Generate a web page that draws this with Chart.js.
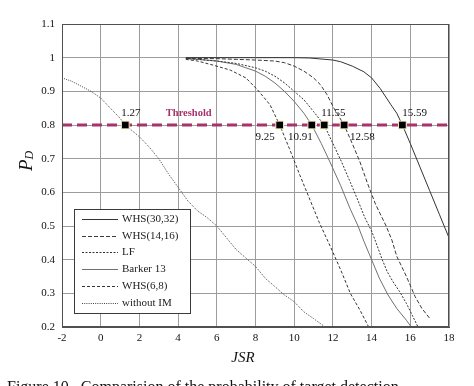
<!DOCTYPE html>
<html>
<head>
<meta charset="utf-8">
<title>PD vs JSR</title>
<script src="https://cdn.jsdelivr.net/npm/chart.js@4/dist/chart.umd.min.js"></script>
<style>
  html, body { margin: 0; padding: 0; background: #fff; }
  #wrap { width: 474px; height: 386px; }
</style>
</head>
<body>
<div id="wrap"><canvas id="pdChart" width="474" height="386"></canvas></div>
<script>
/* ---------- data ---------- */
const seriesNames = ["WHS(30,32)", "WHS(14,16)", "LF", "Barker 13", "WHS(6,8)", "without IM"];

const whs3032X = [4.4, 6, 8, 10, 10.8, 12, 12.4, 13, 13.6, 14, 14.45, 15, 15.3, 15.59, 16, 16.5, 17, 17.5, 18];
const whs3032Y = [1.0, 1.0, 1.0, 1.0, 0.999, 0.993, 0.988, 0.975, 0.958, 0.94, 0.908, 0.86, 0.835, 0.8, 0.745, 0.675, 0.605, 0.535, 0.465];

const whs1416X = [4.4, 6, 7, 8, 9, 9.5, 10, 10.5, 11, 11.35, 11.7, 12.05, 12.58, 13, 13.4, 13.8, 14.2, 14.75, 15.05, 15.3, 15.8, 16.25, 16.6, 17.0];
const whs1416Y = [0.998, 0.997, 0.995, 0.993, 0.99, 0.985, 0.975, 0.96, 0.94, 0.92, 0.89, 0.85, 0.8, 0.745, 0.69, 0.625, 0.565, 0.5, 0.458, 0.41, 0.35, 0.29, 0.255, 0.226];

const lfX = [4.4, 5, 6, 7, 8, 8.5, 9, 9.5, 10, 10.5, 11, 11.55, 12, 12.45, 12.9, 13.3, 13.65, 14, 14.2, 14.55, 14.8, 15.1, 15.45, 15.8, 16.1, 16.4];
const lfY = [0.997, 0.995, 0.99, 0.983, 0.97, 0.96, 0.945, 0.925, 0.9, 0.875, 0.84, 0.8, 0.745, 0.69, 0.63, 0.575, 0.525, 0.485, 0.455, 0.4, 0.365, 0.335, 0.305, 0.27, 0.235, 0.2];

const barkerX = [4.4, 5, 6, 7, 7.5, 8, 8.5, 9, 9.5, 10, 10.5, 10.91, 11.4, 11.85, 12.4, 12.9, 13.3, 13.6, 14, 14.4, 14.85, 15.3, 15.8, 16.05];
const barkerY = [0.998, 0.995, 0.99, 0.98, 0.97, 0.96, 0.945, 0.925, 0.9, 0.87, 0.835, 0.8, 0.745, 0.69, 0.62, 0.55, 0.5, 0.455, 0.4, 0.345, 0.295, 0.255, 0.22, 0.2];

const whs68X = [4.4, 5, 5.8, 6.7, 7.5, 8.1, 8.75, 9.25, 9.75, 10.3, 10.8, 11.3, 11.9, 12.4, 12.9, 13.4, 13.85];
const whs68Y = [0.995, 0.99, 0.978, 0.963, 0.94, 0.905, 0.86, 0.8, 0.73, 0.65, 0.58, 0.51, 0.435, 0.37, 0.3, 0.25, 0.2];

const noImX = [-2, -1.5, -1, -0.5, 0, 0.5, 1, 1.27, 2, 2.5, 3, 3.5, 4, 4.5, 5, 5.5, 6, 6.5, 7, 7.5, 8, 8.5, 9, 9.5, 10, 10.5, 11, 11.6];
const noImY = [0.94, 0.93, 0.915, 0.9, 0.88, 0.85, 0.82, 0.8, 0.765, 0.735, 0.7, 0.655, 0.615, 0.575, 0.545, 0.525, 0.5, 0.465, 0.43, 0.405, 0.38, 0.345, 0.32, 0.295, 0.275, 0.245, 0.225, 0.2];

const thresholdY = 0.8;
const crossX = [1.27, 9.25, 10.91, 11.55, 12.58, 15.59];
const crossLabels = ["1.27", "9.25", "10.91", "11.55", "12.58", "15.59"];

const xTicks = [-2, 0, 2, 4, 6, 8, 10, 12, 14, 16, 18];
const yTicks = [0.2, 0.3, 0.4, 0.5, 0.6, 0.7, 0.8, 0.9, 1, 1.1];

/* ---------- styles ---------- */
const serif = "'Liberation Serif', 'DejaVu Serif', serif";
const threshColor = "#a8336b";
const lineStyles = [
  { color: "#333", dash: [] },
  { color: "#3a3a3a", dash: [4, 2] },
  { color: "#333", dash: [2, 1.5] },
  { color: "#707070", dash: [] },
  { color: "#333", dash: [3, 2] },
  { color: "#444", dash: [1, 1.2] }
];
// label placement next to each crossing marker: [align, dx, dy]
const crossPlace = [
  ["left", -4, -12], ["right", -5, 12], ["right", 1, 12],
  ["left", -3, -12], ["left", 6, 12], ["left", 0, -12]
];

const toPts = (xs, ys) => xs.map((x, i) => ({ x: x, y: ys[i] }));
const seriesPts = [
  toPts(whs3032X, whs3032Y),
  toPts(whs1416X, whs1416Y),
  toPts(lfX, lfY),
  toPts(barkerX, barkerY),
  toPts(whs68X, whs68Y),
  toPts(noImX, noImY)
];

const curveSets = seriesNames.map((name, i) => ({
  label: name,
  data: seriesPts[i],
  borderColor: lineStyles[i].color,
  borderDash: lineStyles[i].dash,
  borderWidth: 1,
  pointRadius: 0,
  tension: 0,
  fill: false,
  order: 3,
  isCurve: true
}));

const datasets = [
  {
    label: "crossings",
    data: crossX.map(x => ({ x: x, y: thresholdY })),
    showLine: false,
    pointStyle: "rect",
    pointRadius: 5.5,
    backgroundColor: "#000",
    borderColor: "#f3efc0",
    borderWidth: 1,
    order: 0
  },
  {
    label: "Threshold",
    data: [{ x: xTicks[0], y: thresholdY }, { x: xTicks[xTicks.length - 1], y: thresholdY }],
    borderColor: threshColor,
    borderWidth: 3,
    borderDash: [10, 5],
    pointRadius: 0,
    order: 1
  }
].concat(curveSets);

/* ---------- extra drawing: labels, legend, axis titles ---------- */
const annotate = {
  id: "annotate",
  afterDatasetsDraw(chart) {
    const ctx = chart.ctx;
    const xs = chart.scales.x, ys = chart.scales.y;
    const ca = chart.chartArea;
    const ty = ys.getPixelForValue(thresholdY);

    ctx.save();
    // frame
    ctx.strokeStyle = "#505050";
    ctx.lineWidth = 1;
    ctx.strokeRect(ca.left + 0.5, ca.top + 0.5, ca.right - ca.left - 1, ca.bottom - ca.top - 1);

    // threshold label
    ctx.fillStyle = threshColor;
    ctx.font = "bold 10.5px " + serif;
    ctx.textAlign = "center";
    ctx.textBaseline = "middle";
    ctx.fillText("Threshold", xs.getPixelForValue(4.55), ty - 12);

    // crossing values
    ctx.fillStyle = "#111";
    ctx.font = "11px " + serif;
    crossX.forEach((x, i) => {
      const p = crossPlace[i];
      ctx.textAlign = p[0];
      ctx.fillText(crossLabels[i], xs.getPixelForValue(x) + p[1], ty + p[2]);
    });

    // legend box
    const lx = ca.left + 12, lw = 116, lh = 104;
    const lt = ca.bottom - 14 - lh;
    ctx.fillStyle = "#fff";
    ctx.fillRect(lx, lt, lw, lh);
    ctx.strokeStyle = "#3a3a3a";
    ctx.strokeRect(lx + 0.5, lt + 0.5, lw, lh);
    ctx.font = "11px " + serif;
    ctx.textAlign = "left";
    chart.data.datasets.filter(d => d.isCurve).forEach((d, i) => {
      const ry = Math.round(lt + 10 + i * 16.7) + 0.5;
      ctx.beginPath();
      ctx.setLineDash(d.borderDash);
      ctx.strokeStyle = d.borderColor;
      ctx.lineWidth = 1;
      ctx.moveTo(lx + 8, ry);
      ctx.lineTo(lx + 44, ry);
      ctx.stroke();
      ctx.setLineDash([]);
      ctx.fillStyle = "#222";
      ctx.fillText(d.label, lx + 48, ry);
    });
    ctx.restore();
  },
  afterDraw(chart) {
    const ctx = chart.ctx;
    ctx.save();
    ctx.fillStyle = "#111";
    // x axis title
    ctx.font = "italic 15px " + serif;
    ctx.textAlign = "center";
    ctx.textBaseline = "middle";
    ctx.fillText("JSR", 243, 358);
    // y axis title P_D (rotated)
    ctx.translate(32, 171);
    ctx.rotate(-Math.PI / 2);
    ctx.textAlign = "left";
    ctx.textBaseline = "alphabetic";
    ctx.font = "italic 19px " + serif;
    ctx.fillText("P", 0, 0);
    const pw = ctx.measureText("P").width;
    ctx.font = "italic 12px " + serif;
    ctx.fillText("D", pw, 1);
    ctx.restore();

    // figure caption (cut off at the bottom edge)
    ctx.save();
    ctx.fillStyle = "#111";
    ctx.font = "16px " + serif;
    ctx.textAlign = "left";
    ctx.textBaseline = "alphabetic";
    ctx.fillText("Figure 10.  Comparision of the probability of target detection", 7, 392);
    ctx.restore();
  }
};

new Chart(document.getElementById("pdChart"), {
  type: "line",
  data: { datasets: datasets },
  plugins: [annotate],
  options: {
    responsive: false,
    animation: false,
    devicePixelRatio: 1,
    layout: { padding: { top: 24, right: 25, left: 0, bottom: 0 } },
    plugins: { legend: { display: false }, tooltip: { enabled: false } },
    scales: {
      x: {
        type: "linear",
        min: xTicks[0],
        max: xTicks[xTicks.length - 1],
        afterFit: s => { s.height = 59; },
        afterBuildTicks: s => { s.ticks = xTicks.map(v => ({ value: v })); },
        grid: { color: "#9c9c9c", lineWidth: 1, drawTicks: false },
        border: { color: "#505050" },
        ticks: {
          padding: 5,
          color: "#111",
          font: { family: serif, size: 11 },
          callback: v => String(v)
        }
      },
      y: {
        type: "linear",
        min: yTicks[0],
        max: yTicks[yTicks.length - 1],
        afterFit: s => { s.width = 62; },
        afterBuildTicks: s => { s.ticks = yTicks.map(v => ({ value: v })); },
        grid: { color: "#9c9c9c", lineWidth: 1, drawTicks: false },
        border: { color: "#505050" },
        ticks: {
          padding: 7,
          color: "#111",
          font: { family: serif, size: 11 },
          callback: v => String(Number(v.toFixed(1)))
        }
      }
    }
  }
});
</script>
</body>
</html>
